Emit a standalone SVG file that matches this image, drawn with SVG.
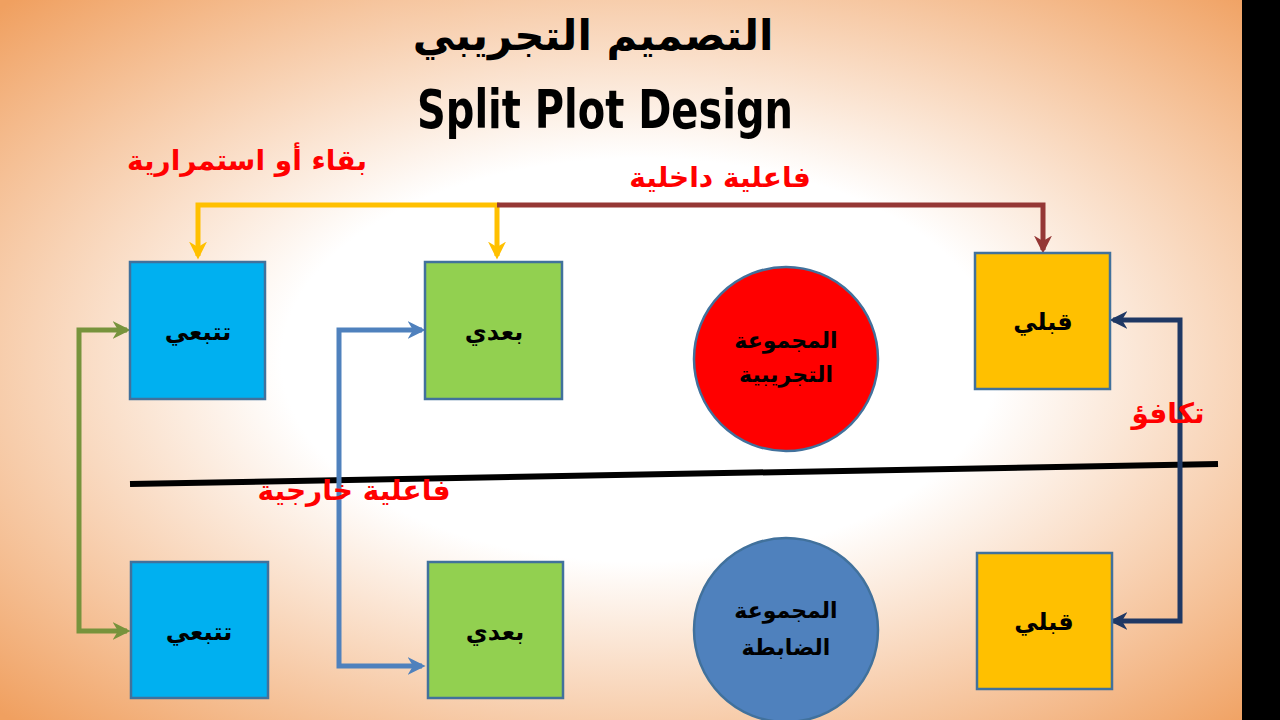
<svg xmlns="http://www.w3.org/2000/svg" width="1280" height="720" viewBox="0 0 1280 720">
<defs>
<radialGradient id="bg" cx="0.5" cy="0.5" r="0.7">
<stop offset="0.4" stop-color="#ffffff"/>
<stop offset="1" stop-color="#f0a060"/>
</radialGradient>
<marker id="ab" markerWidth="18" markerHeight="18" refX="8" refY="5" orient="auto" viewBox="0 0 10 10" markerUnits="userSpaceOnUse"><path d="M0,0L10,5L0,10L3,5z" fill="#953735"/></marker>
<marker id="ag" markerWidth="18" markerHeight="18" refX="8" refY="5" orient="auto-start-reverse" viewBox="0 0 10 10" markerUnits="userSpaceOnUse"><path d="M0,0L10,5L0,10L3,5z" fill="#77933c"/></marker>
<marker id="al" markerWidth="18" markerHeight="18" refX="8" refY="5" orient="auto-start-reverse" viewBox="0 0 10 10" markerUnits="userSpaceOnUse"><path d="M0,0L10,5L0,10L3,5z" fill="#4f81bd"/></marker>
<marker id="an" markerWidth="18" markerHeight="18" refX="8" refY="5" orient="auto-start-reverse" viewBox="0 0 10 10" markerUnits="userSpaceOnUse"><path d="M0,0L10,5L0,10L3,5z" fill="#1f3864"/></marker>
<marker id="ay2" markerWidth="18" markerHeight="18" refX="8" refY="5" orient="auto-start-reverse" viewBox="0 0 10 10" markerUnits="userSpaceOnUse"><path d="M0,0L10,5L0,10L3,5z" fill="#ffc000"/></marker>
</defs>
<style>
.box{stroke:#41719c;stroke-width:2.5}
.t{font-family:"DejaVu Sans","Noto Sans",sans-serif;font-weight:bold;font-size:24px;fill:#000;text-anchor:middle}
.r{font-family:"DejaVu Sans","Noto Sans",sans-serif;font-weight:bold;font-size:28px;fill:#ff0000;text-anchor:middle}
.c{fill:none;stroke-width:5}
</style>
<rect width="1280" height="720" fill="url(#bg)"/>
<rect x="1242" y="0" width="38" height="720" fill="#000"/>
<text x="593" y="50" class="t" style="font-size:42px">التصميم التجريبي</text>
<text x="605" y="128" style="font-family:'DejaVu Sans Condensed','DejaVu Sans',sans-serif;font-weight:bold;font-size:54px;text-anchor:middle" textLength="376" lengthAdjust="spacingAndGlyphs">Split Plot Design</text>
<line x1="130" y1="484" x2="1218" y2="464" stroke="#000" stroke-width="6"/>
<g id="connectors">
<path class="c" stroke="#ffc000" d="M198,256V205H497V256" marker-start="url(#ay2)" marker-end="url(#ay2)"/>
<path class="c" stroke="#953735" d="M497,205H1043V250" marker-end="url(#ab)"/>
<path class="c" stroke="#77933c" d="M127,330H79V631H127" marker-start="url(#ag)" marker-end="url(#ag)"/>
<path class="c" stroke="#4f81bd" d="M422,330H339V666H422" marker-start="url(#al)" marker-end="url(#al)"/>
<path class="c" stroke="#1f3864" d="M1113,320H1180V621H1113" marker-start="url(#an)" marker-end="url(#an)"/>
</g>
<g id="n1"><rect class="box" x="130" y="262" width="135" height="137" fill="#00b0f0"/><text class="t" x="198" y="340">تتبعي</text></g>
<g id="n2"><rect class="box" x="425" y="262" width="137" height="137" fill="#92d050"/><text class="t" x="494" y="340">بعدي</text></g>
<g id="n3"><circle class="box" cx="786" cy="359" r="92" fill="#ff0000"/><text class="t" x="786" y="348" style="font-size:22px">المجموعة</text><text class="t" x="786" y="382" style="font-size:22px">التجريبية</text></g>
<g id="n4"><rect class="box" x="975" y="253" width="135" height="136" fill="#ffc000"/><text class="t" x="1043" y="330">قبلي</text></g>
<g id="n5"><rect class="box" x="131" y="562" width="137" height="136" fill="#00b0f0"/><text class="t" x="199" y="640">تتبعي</text></g>
<g id="n6"><rect class="box" x="428" y="562" width="135" height="136" fill="#92d050"/><text class="t" x="495" y="640">بعدي</text></g>
<g id="n7"><circle class="box" cx="786" cy="630" r="92" fill="#4f81bd"/><text class="t" x="786" y="618" style="font-size:22px">المجموعة</text><text class="t" x="786" y="655" style="font-size:22px">الضابطة</text></g>
<g id="n8"><rect class="box" x="977" y="553" width="135" height="136" fill="#ffc000"/><text class="t" x="1044" y="630">قبلي</text></g>
<text class="r" x="247" y="170">بقاء أو استمرارية</text>
<text class="r" x="720" y="187">فاعلية داخلية</text>
<text class="r" x="1168" y="423">تكافؤ</text>
<text class="r" x="354" y="500">فاعلية خارجية</text>
</svg>
